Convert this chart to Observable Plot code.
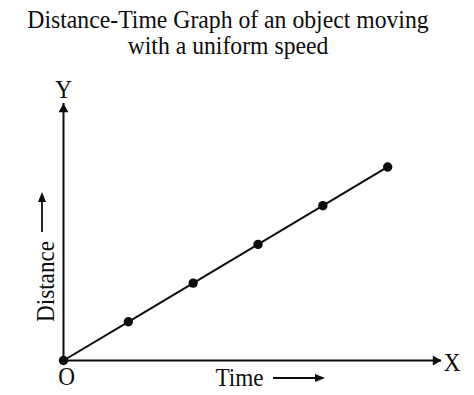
<!DOCTYPE html>
<html><head><meta charset="utf-8">
<script src="https://cdn.jsdelivr.net/npm/d3@7"></script>
<script src="https://cdn.jsdelivr.net/npm/@observablehq/plot@0.6"></script>
<style>body{margin:0;background:#fff}</style>
</head><body><div id="chart"></div>
<script>
const titleLines = ["Distance-Time Graph of an object moving", "with a uniform speed"];
const time = [0, 1, 2, 3, 4, 5];
const distance = [0, 1, 2, 3, 4, 5];
const xLabel = "Time";
const yLabel = "Distance";
const xAxisName = "X";
const yAxisName = "Y";
const originName = "O";
const xMax = 5.83;
const yMax = 6.64;

const data = time.map((t, i) => ({time: t, distance: distance[i]}));
const font = '"Liberation Serif", "Times New Roman", serif';
const ink = "#0d0d0d";
const fs = 25.5;

function decor(index, scales, values, dims) {
  const ox = dims.marginLeft, oy = dims.height - dims.marginBottom;
  const g = d3.create("svg:g").attr("fill", ink).attr("stroke", ink);
  const arrow = (x1, y1, x2, y2) => {
    const L = 10, W = 4;
    const ang = Math.atan2(y2 - y1, x2 - x1);
    const bx = x2 - L * Math.cos(ang), by = y2 - L * Math.sin(ang);
    g.append("line").attr("x1", x1).attr("y1", y1).attr("x2", bx).attr("y2", by).attr("stroke-width", 1.8);
    const px = -Math.sin(ang) * W, py = Math.cos(ang) * W;
    g.append("path").attr("stroke", "none")
      .attr("d", `M${x2},${y2}L${bx + px},${by + py}L${bx - px},${by - py}Z`);
  };
  arrow(ox + 210, oy + 18, ox + 262, oy + 18);
  arrow(ox - 21, oy - 128, ox - 21, oy - 168);
  return g.node();
}

const txt = {fontFamily: font, fontSize: fs, fill: ink, text: d => d, textAnchor: "middle", lineAnchor: "middle"};

const chart = Plot.plot({
  width: 474,
  height: 395,
  marginLeft: 63,
  marginRight: 33,
  marginTop: 103,
  marginBottom: 35,
  x: {domain: [0, xMax], axis: null},
  y: {domain: [0, yMax], axis: null},
  marks: [
    Plot.ruleX([0], {y1: 0, y2: yMax, stroke: ink, strokeWidth: 2}),
    Plot.ruleY([0], {x1: 0, x2: xMax, stroke: ink, strokeWidth: 2}),
    Plot.dot([{x: 0, y: yMax}], {x: "x", y: "y", symbol: "triangle", r: 3.7, fill: ink, dy: 5.8}),
    Plot.dot([{x: xMax, y: 0}], {x: "x", y: "y", symbol: "triangle", r: 3.7, fill: ink, rotate: 90, dx: -5.8}),
    Plot.line(data, {x: "time", y: "distance", stroke: ink, strokeWidth: 2}),
    Plot.dot(data, {x: "time", y: "distance", r: 4.7, fill: ink}),
    Plot.text([titleLines.join("\n")], {...txt, frameAnchor: "top", lineAnchor: "top", dx: -24.5, dy: -94, lineHeight: 1.02, className: "title"}),
    Plot.text([yAxisName], {...txt, frameAnchor: "top-left", dy: -14}),
    Plot.text([xAxisName], {...txt, frameAnchor: "bottom-right", dx: 10.5, dy: 2}),
    Plot.text([originName], {...txt, frameAnchor: "bottom-left", dx: 3, dy: 16}),
    Plot.text([xLabel], {...txt, frameAnchor: "bottom-left", dx: 176, dy: 17.5}),
    Plot.text([yLabel], {...txt, frameAnchor: "bottom-left", dx: -18, dy: -79, rotate: -90}),
    decor
  ]
});
chart.querySelectorAll("text").forEach(t => {
  const tr = t.getAttribute("transform");
  const isTitle = t.closest(".title") !== null;
  if (tr) t.setAttribute("transform", tr + (isTitle ? " scale(0.93,1)" : " scale(0.91,1)"));
});
document.getElementById("chart").appendChild(chart);
</script>
</body></html>
